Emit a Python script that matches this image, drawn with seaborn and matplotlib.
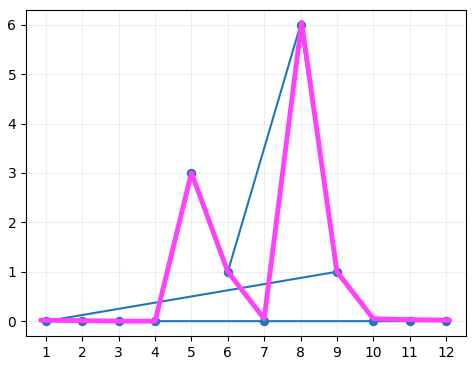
import matplotlib
matplotlib.use("Agg")
import matplotlib.pyplot as plt
import seaborn as sns
import pandas as pd

# Blue series (drawn in data order, unsorted)
blue_x = [4, 5, 6, 8, 9, 1, 2, 3, 7, 10, 11, 12]
blue_y = [0, 3, 1, 6, 1, 0, 0, 0, 0, 0, 0, 0]

# Magenta series
mag_x = [0.85, 2, 3, 4, 5, 6, 7, 8.03, 9, 10, 11, 12.1]
mag_y = [0.02, 0.01, 0, 0, 3, 1, 0.05, 6.05, 1, 0.05, 0.03, 0.02]

xticks = list(range(1, 13))

sns.set_style("ticks")
fig, ax = plt.subplots(figsize=(4.74, 3.66), dpi=100)

blue_df = pd.DataFrame({"x": blue_x, "y": blue_y})
mag_df = pd.DataFrame({"x": mag_x, "y": mag_y})

sns.lineplot(data=blue_df, x="x", y="y", sort=False, marker="o", color="#1f77b4",
             linewidth=1.5, markersize=6, markeredgecolor="#1f77b4", ax=ax)
sns.lineplot(data=mag_df, x="x", y="y", sort=False, color="#ff40ff",
             linewidth=3.5, ax=ax, solid_capstyle="round", solid_joinstyle="round")

ax.set_xlim(0.45, 12.55)
ax.set_ylim(-0.3, 6.3)
ax.set_xticks(xticks)
ax.set_xticklabels([str(t) for t in xticks])
ax.set_yticks(range(0, 7))
ax.set_xlabel("")
ax.set_ylabel("")
ax.grid(True, color="#b0b0b0", alpha=0.2, linewidth=0.8)
for s in ax.spines.values():
    s.set_visible(True)
    s.set_color("black")
ax.tick_params(direction="out", length=3.5, colors="black", labelsize=10)

fig.subplots_adjust(left=0.055, right=0.983, top=0.973, bottom=0.082)
fig.savefig("out.png", dpi=100)
